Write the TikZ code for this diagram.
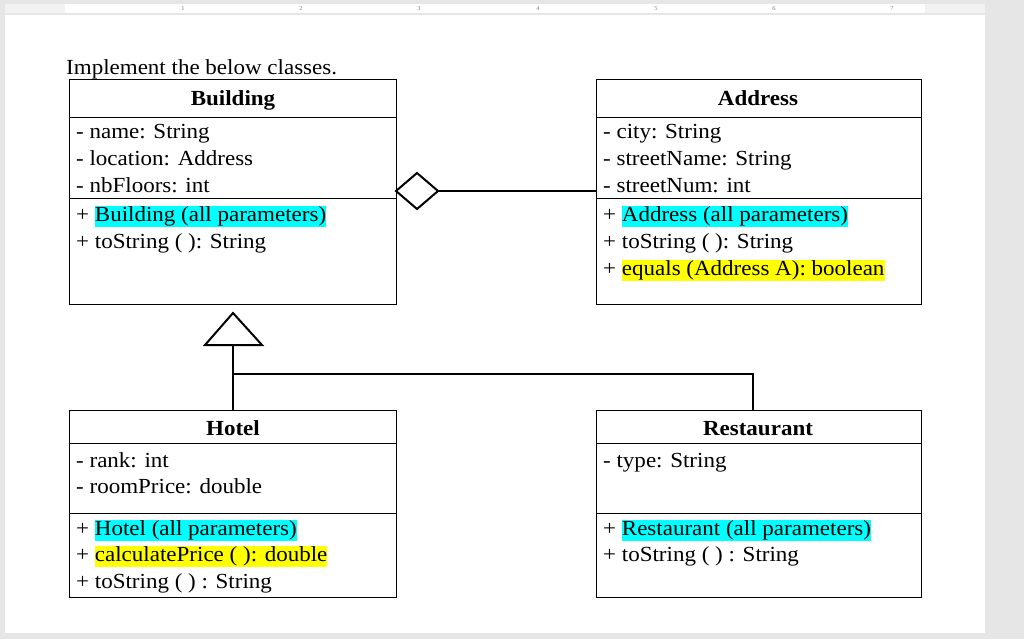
\documentclass[tikz,border=0pt]{standalone}
\usepackage{fontspec}
\setmainfont{Liberation Serif}[FakeStretch=1.07]
\newcommand{\hlc}[1]{{\setlength{\fboxsep}{0pt}\colorbox{hc}{\rule[-6pt]{0pt}{21pt}#1}}}
\newcommand{\hly}[1]{{\setlength{\fboxsep}{0pt}\colorbox{hy}{\rule[-6pt]{0pt}{21pt}#1}}}
\definecolor{hc}{RGB}{0,255,255}
\definecolor{hy}{RGB}{255,255,0}
\definecolor{frame}{RGB}{230,230,230}
\begin{document}
\begin{tikzpicture}[x=1pt,y=-1pt,
  box/.style={draw,line width=0.8pt},
  txt/.style={anchor=base west,inner sep=0pt,font=\fontsize{21.5}{24}\selectfont},
  ttl/.style={anchor=base,inner sep=0pt,font=\fontsize{21.5}{24}\selectfont\bfseries},
  conn/.style={line width=2pt}]
\useasboundingbox (0,0) rectangle (1024,639);
\fill[frame] (0,0) rectangle (1024,639);
\fill[white] (5,15) rectangle (985,633);
\fill[white!95!black] (5,4) rectangle (985,13);
\fill[white] (65,4) rectangle (925,13);
\foreach \i/\x in {1/183,2/301,3/419,4/538,5/656,6/774,7/892}
  \node[font=\fontsize{6}{6}\selectfont,text=gray] (r\i) at (\x,9) {\i};
\node[txt] (intro) at (66,75) {Implement the below classes.};
% Building
\draw[box] (69,79) rectangle (396,304);
\draw[box] (69,117) -- (396,117) (69,198) -- (396,198);
\node[ttl] (bt) at (233,106) {Building};
\node[txt] (b1) at (76,139) {- name: String};
\node[txt] (b2) at (76,165) {- location: Address};
\node[txt] (b3) at (76,192) {- nbFloors: int};
\node[txt] (b4) at (76,221) {+ \hlc{Building (all parameters)}};
\node[txt] (b5) at (76,248) {+ toString ( ): String};
% Address
\draw[box] (596,79) rectangle (921,304);
\draw[box] (596,117) -- (921,117) (596,198) -- (921,198);
\node[ttl] (at) at (758,106) {Address};
\node[txt] (a1) at (603,139) {- city: String};
\node[txt] (a2) at (603,165) {- streetName: String};
\node[txt] (a3) at (603,192) {- streetNum: int};
\node[txt] (a4) at (603,221) {+ \hlc{Address (all parameters)}};
\node[txt] (a5) at (603,248) {+ toString ( ): String};
\node[txt] (a6) at (603,275) {+ \hly{equals (Address A): boolean}};
% Hotel
\draw[box] (69,410) rectangle (396,597);
\draw[box] (69,443) -- (396,443) (69,513) -- (396,513);
\node[ttl] (ht) at (233,435) {Hotel};
\node[txt] (h1) at (76,467) {- rank: int};
\node[txt] (h2) at (76,493) {- roomPrice: double};
\node[txt] (h3) at (76,535) {+ \hlc{Hotel (all parameters)}};
\node[txt] (h4) at (76,561) {+ \hly{calculatePrice ( ): double}};
\node[txt] (h5) at (76,588) {+ toString ( ) : String};
% Restaurant
\draw[box] (596,410) rectangle (921,597);
\draw[box] (596,443) -- (921,443) (596,513) -- (921,513);
\node[ttl] (rt) at (758,435) {Restaurant};
\node[txt] (r1) at (603,467) {- type: String};
\node[txt] (r2) at (603,535) {+ \hlc{Restaurant (all parameters)}};
\node[txt] (r3) at (603,561) {+ toString ( ) : String};
% aggregation
\coordinate (dl) at (396,191);
\coordinate (dr) at (438,191);
\coordinate (ae) at (596,191);
\draw[conn,fill=white] (dl) -- (417,173) -- (dr) -- (417,209) -- cycle;
\draw[conn] (dr) -- (ae);
% inheritance
\coordinate (tap) at (233,313);
\draw[conn,fill=white] (tap) -- (262,345) -- (205,345) -- cycle;
\coordinate (tb) at (233,345);
\coordinate (hj) at (233,410);
\coordinate (rj) at (753,410);
\draw[conn] (tb) -- (hj);
\draw[conn] (233,374) -- (753,374) -- (rj);
\end{tikzpicture}
\end{document}
